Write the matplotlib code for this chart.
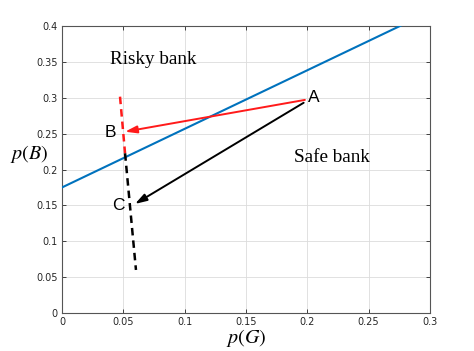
import matplotlib
matplotlib.use("Agg")
import matplotlib.pyplot as plt

# Data
boundary_x = [0.0, 0.3]
boundary_y = [0.175, 0.42]
red_dash_x = [0.0473, 0.0514]
red_dash_y = [0.3015, 0.2226]
black_dash_x = [0.0514, 0.0603]
black_dash_y = [0.2226, 0.06]
arrow_start = {"B": (0.198, 0.297), "C": (0.197, 0.293)}
arrow_end = {"B": (0.0514, 0.2527), "C": (0.0595, 0.152)}
arrow_colors = {"B": "#ff1a1a", "C": "black"}
point_labels = ["A", "B", "C"]
point_label_x = [0.205, 0.0397, 0.046]
point_label_y = [0.300, 0.252, 0.1496]
region_labels = ["Risky bank", "Safe bank"]
region_x = [0.0742, 0.220]
region_y = [0.354, 0.217]
xticks = [0, 0.05, 0.1, 0.15, 0.2, 0.25, 0.3]
xticklabels = ["0", "0.05", "0.1", "0.15", "0.2", "0.25", "0.3"]
yticks = [0, 0.05, 0.1, 0.15, 0.2, 0.25, 0.3, 0.35, 0.4]
yticklabels = ["0", "0.05", "0.1", "0.15", "0.2", "0.25", "0.3", "0.35", "0.4"]

plt.rcParams["mathtext.fontset"] = "stix"

fig = plt.figure(figsize=(4.74, 3.51), dpi=100)
ax = fig.add_axes([62/474, 1 - 313/351, (430-62)/474, (313-26)/351])

ax.plot(boundary_x, boundary_y, color="#0072BD", lw=1.5, zorder=3)
ax.plot(red_dash_x, red_dash_y, color="#ff1a1a", lw=1.8, ls=(0, (3, 2)), zorder=3)
ax.plot(black_dash_x, black_dash_y, color="black", lw=1.8, ls=(0, (3, 2)), zorder=3)

for k in ["B", "C"]:
    ax.annotate("", xy=arrow_end[k], xytext=arrow_start[k],
                arrowprops=dict(arrowstyle="-|>,head_length=0.7,head_width=0.22",
                                color=arrow_colors[k], lw=1.4, shrinkA=0, shrinkB=0),
                zorder=4)

for lab, x, y in zip(point_labels, point_label_x, point_label_y):
    ax.text(x, y, lab, fontsize=12.5, family="Liberation Sans", ha="center", va="center", zorder=5)

for lab, x, y in zip(region_labels, region_x, region_y):
    ax.text(x, y, lab, fontsize=13.8, family="Liberation Serif", ha="center", va="center", zorder=5)

ax.set_xlim(0, 0.3)
ax.set_ylim(0, 0.4)
ax.set_xticks(xticks)
ax.set_xticklabels(xticklabels)
ax.set_yticks(yticks)
ax.set_yticklabels(yticklabels)
ax.tick_params(direction="in", top=True, right=True, length=3, width=0.6,
               labelsize=7, colors="#262626", pad=3)
ax.grid(True, color="#dcdcdc", lw=0.6)
ax.set_axisbelow(True)
for s in ax.spines.values():
    s.set_color("#555555")
    s.set_linewidth(0.8)

ax.set_xlabel(r"$p(G)$", fontsize=14.5)
ax.xaxis.set_label_coords((246.7 - 62) / 368, -(338 - 313) / 287)
ax.xaxis.label.set_va("center")
ax.set_ylabel(r"$p(B)$", fontsize=14.5, rotation=0, va="center", ha="center")
ax.yaxis.set_label_coords((29 - 62) / 368, (313 - 154) / 287)

fig.savefig("out.png", dpi=100, facecolor="white")
